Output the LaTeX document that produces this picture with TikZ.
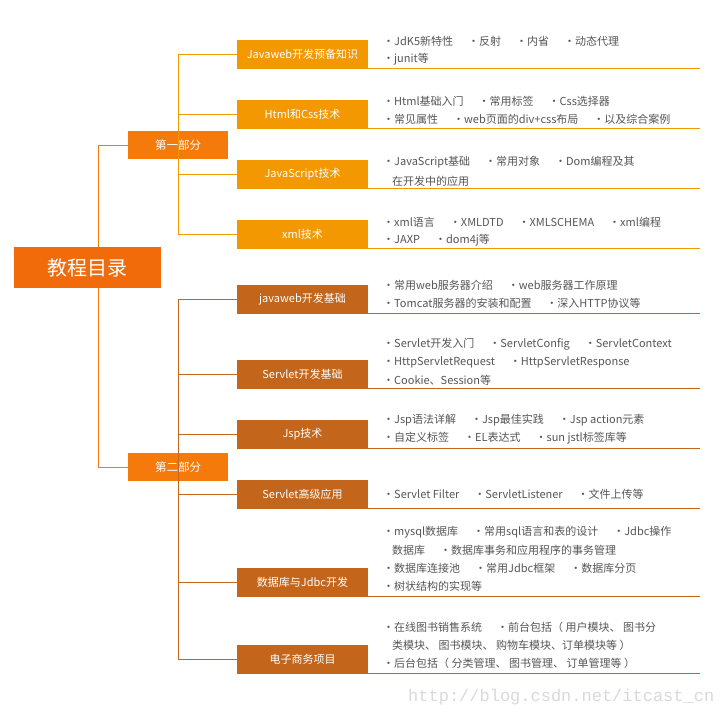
\documentclass[tikz,border=0pt]{standalone}
\usepackage{fontspec}
\setmainfont{Noto Sans CJK SC}
\newcommand{\gp}{\hspace{15pt}}
\begin{document}
\begin{tikzpicture}[x=1pt,y=-1pt,
  every node/.style={inner sep=0pt},
  ln/.style={line width=1pt},
  yl/.style={fill=cY,text=white,minimum width=131pt,minimum height=29pt,font=\fontsize{11}{12}\selectfont},
  br/.style={fill=cB,text=white,minimum width=131pt,minimum height=29pt,font=\fontsize{11}{12}\selectfont},
  tx/.style={anchor=west,text=cT,font=\fontsize{11}{12}\selectfont}]
\definecolor{cY}{HTML}{F39800}
\definecolor{cB}{HTML}{C3651A}
\definecolor{cR}{HTML}{F26B0A}
\definecolor{cP}{HTML}{F47A0C}
\definecolor{cT}{HTML}{555555}
\useasboundingbox (0,0) rectangle (720,716);
% part boxes
\node[fill=cP,text=white,minimum width=100pt,minimum height=28pt,font=\fontsize{11.5}{13}\selectfont] (p1) at (178,145) {第一部分};
\node[fill=cP,text=white,minimum width=100pt,minimum height=28pt,font=\fontsize{11.5}{13}\selectfont] (p2) at (178,467) {第二部分};
\coordinate (r1) at (98,145); \coordinate (r2) at (98,467);
\draw[ln,cP] (p1.west) -- (r1) -- (r2) -- (p2.west);
\node[fill=cR,text=white,minimum width=147pt,minimum height=41pt,font=\fontsize{20}{22}\selectfont] (root) at (87.5,267.5) {教程目录};
% part1 children
\foreach \n/\y/\t in {a/54/Javaweb开发预备知识,b/114/Html和Css技术,c/174/JavaScript技术,d/234/xml技术}{
  \node[yl] (\n) at (302.5,\y) {\t};
  \coordinate (\n l) at (178,\y);
  \draw[ln,cY] (\n.south east) -- ++(332,0);
}
\draw[ln,cY] (al) -- (dl);
\foreach \n in {a,b,c,d}{\draw[ln,cY] (\n l) -- (\n.west);}
% part2 children
\foreach \n/\y/\t in {e/299/javaweb开发基础,f/374/Servlet开发基础,g/434/Jsp技术,h/494/Servlet高级应用,i/582/数据库与Jdbc开发,j/659/电子商务项目}{
  \node[br] (\n) at (302.5,\y) {\t};
  \coordinate (\n l) at (178,\y);
  \draw[ln,cB] (\n.south east) -- ++(332,0);
}
\draw[ln,cB] (el) -- (jl);
\foreach \n in {e,f,g,h,i,j}{\draw[ln,cB] (\n l) -- (\n.west);}
% texts
\node[tx] (t1) at (383,41) {·JdK5新特性\gp ·反射\gp ·内省\gp ·动态代理};
\node[tx] (t2) at (383,59) {·junit等};
\node[tx] (t3) at (383,101) {·Html基础入门\gp ·常用标签\gp ·Css选择器};
\node[tx] (t4) at (383,119) {·常见属性\gp ·web页面的div+css布局\gp ·以及综合案例};
\node[tx] (t5) at (383,162) {·JavaScript基础\gp ·常用对象\gp ·Dom编程及其};
\node[tx] (t6) at (392,181) {在开发中的应用};
\node[tx] (t7) at (383,222) {·xml语言\gp ·XMLDTD\gp ·XMLSCHEMA\gp ·xml编程};
\node[tx] (t8) at (383,240) {·JAXP\gp ·dom4j等};
\node[tx] (t9) at (383,285) {·常用web服务器介绍\gp ·web服务器工作原理};
\node[tx] (t10) at (383,303) {·Tomcat服务器的安装和配置\gp ·深入HTTP协议等};
\node[tx] (t11) at (383,344) {·Servlet开发入门\gp ·ServletConfig\gp ·ServletContext};
\node[tx] (t12) at (383,362) {·HttpServletRequest\gp ·HttpServletResponse};
\node[tx] (t13) at (383,380) {·Cookie、Session等};
\node[tx] (t14) at (383,420) {·Jsp语法详解\gp ·Jsp最佳实践\gp ·Jsp action元素};
\node[tx] (t15) at (383,438) {·自定义标签\gp ·EL表达式\gp ·sun jstl标签库等};
\node[tx] (t16) at (383,494) {·Servlet Filter\gp ·ServletListener\gp ·文件上传等};
\node[tx] (t17) at (383,532) {·mysql数据库\gp ·常用sql语言和表的设计\gp ·Jdbc操作};
\node[tx] (t18) at (392,550) {数据库\gp ·数据库事务和应用程序的事务管理};
\node[tx] (t19) at (383,568) {·数据库连接池\gp ·常用Jdbc框架\gp ·数据库分页};
\node[tx] (t20) at (383,586) {·树状结构的实现等};
\node[tx] (t21) at (383,627) {·在线图书销售系统\gp ·前台包括（ 用户模块、 图书分};
\node[tx] (t22) at (392,645) {类模块、 图书模块、 购物车模块、订单模块等 ）};
\node[tx] (t23) at (383,663) {·后台包括（ 分类管理、 图书管理、 订单管理等 ）};
\node[anchor=west,text=black!15,font=\fontspec{Liberation Mono}\fontsize{17}{20}\selectfont] (wm) at (408,697) {http://blog.csdn.net/itcast\_cn};
\end{tikzpicture}
\end{document}
